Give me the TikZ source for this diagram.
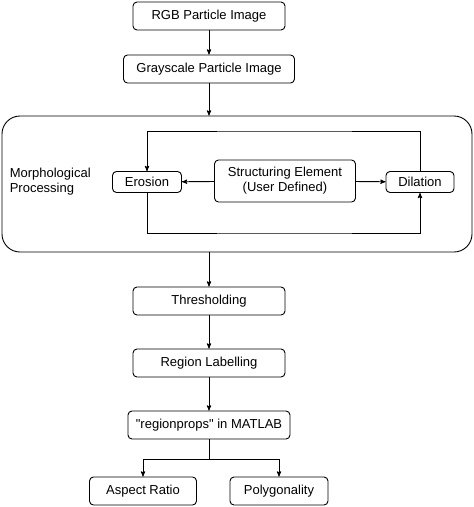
\documentclass[tikz,border=0pt]{standalone}
\usepackage{fontspec}
\setmainfont{Liberation Sans}
\newfontfamily\plainfont{Liberation Sans}
\usetikzlibrary{positioning, arrows}

\begin{document}
\begin{tikzpicture}[x=1pt,y=-1pt,->,>=stealth',line width=0.9pt,
                    node distance=62pt,
                    block/.style={draw, rounded corners=4pt, minimum height=28pt,
                                  inner sep=2pt, font=\fontsize{13}{15}\selectfont},
                    small/.style={block, minimum height=21pt}]
                \useasboundingbox (0,0) rectangle (474,507);
                \node[block, minimum width=152pt] (rgb) at (209,16) {RGB Particle Image};
                \node[block, minimum width=171pt] (gray) at (209,69) {Grayscale Particle Image};
                \node[draw, rounded corners=18pt, minimum width=470pt,
                      minimum height=136pt] (morph) at (237,184) {};
                \node[anchor=west, align=left, font=\fontsize{13}{15}\selectfont]
                      (mlabel) at (6,182) {Morphological\\Processing};
                \node[small, minimum width=69pt] (ero) at (147,182) {Erosion};
                \node[block, minimum width=141pt, minimum height=42pt, align=center]
                      (struct) at (285,181) {Structuring Element\\(User Defined)};
                \node[small, minimum width=68pt] (dil) at (420,182) {Dilation};
                \node[block, minimum width=152pt] (thresh) at (209,301) {Thresholding};
                \node[block, minimum width=152pt] (label) [below of = thresh] {Region Labelling};
                \node[block, minimum width=162pt] (props) [below of = label] {\plainfont "regionprops" in MATLAB};
                \node[block, minimum width=107pt] (aspect) at (143,491) {Aspect Ratio};
                \node[block, minimum width=98pt] (poly) at (279,491) {Polygonality};
                \coordinate (loop) at (285,131);
                \coordinate (split) at (209,459);

                \draw (rgb) -- (gray);
                \draw (gray) -- (gray |- morph.north);
                \draw (struct) -- (ero);
                \draw (struct) -- (dil);
                \draw (dil.north) |- (loop) -| (ero.north);
                \draw (ero.south) |- (285,233) -| (dil.south);
                \draw (thresh |- morph.south) -- (thresh);
                \draw (thresh) -- (label);
                \draw (label) -- (props);
                \draw[-] (props) -- (split);
                \draw (split) -| (aspect);
                \draw (split) -| (poly);
\end{tikzpicture}
\end{document}
